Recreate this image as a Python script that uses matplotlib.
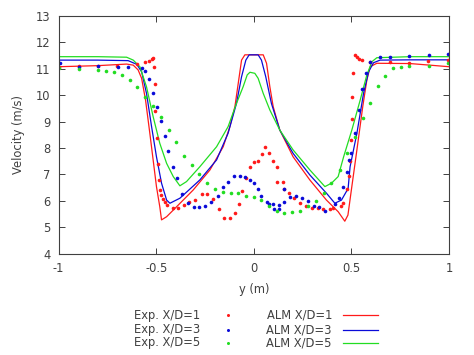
import matplotlib
matplotlib.use("Agg")
import matplotlib.pyplot as plt
from matplotlib.lines import Line2D

# Exp. X/D=1 (red dots)
exp1_y = [-1.0, -0.895, -0.80, -0.70, -0.60, -0.557, -0.538, -0.524, -0.516, -0.512, -0.507,
          -0.504, -0.497, -0.492, -0.487, -0.48, -0.475, -0.468, -0.457, -0.447, -0.416, -0.388,
          -0.357, -0.331, -0.30, -0.268, -0.239, -0.21, -0.181, -0.151, -0.12, -0.099, -0.078,
          -0.059, -0.038, -0.02, 0.001, 0.022, 0.041, 0.058, 0.077, 0.099, 0.117, 0.121, 0.15,
          0.154, 0.181, 0.207, 0.236, 0.266, 0.298, 0.327, 0.356, 0.389, 0.405, 0.447, 0.459,
          0.476, 0.485, 0.493, 0.497, 0.502, 0.505, 0.509, 0.518, 0.528, 0.54, 0.556, 0.597,
          0.697, 0.795, 0.894, 0.993]
exp1_v = [11.08, 11.12, 11.12, 11.1, 11.17, 11.25, 11.31, 11.37, 11.4, 11.08, 10.43,
          9.40, 8.39, 7.38, 6.78, 6.41, 6.22, 6.07, 5.95, 5.84, 5.72, 5.72,
          5.84, 5.95, 6.02, 6.25, 6.26, 6.07, 5.68, 5.34, 5.34, 5.54, 5.9,
          6.38, 6.85, 7.28, 7.46, 7.5, 7.79, 8.04, 7.8, 7.52, 7.29, 6.73, 6.73,
          6.46, 6.31, 6.10, 5.93, 5.81, 5.74, 5.72, 5.68, 5.68, 5.72, 5.82, 5.93,
          6.46, 6.94, 7.52, 8.30, 9.09, 9.95, 10.83, 11.52, 11.46, 11.38, 11.32, 11.25,
          11.25, 11.23, 11.3, 11.33]

# Exp. X/D=3 (blue dots)
exp3_y = [-0.994, -0.895, -0.796, -0.698, -0.647, -0.575, -0.557, -0.538, -0.519, -0.497,
          -0.476, -0.457, -0.439, -0.416, -0.396, -0.367, -0.336, -0.309, -0.279, -0.248,
          -0.22, -0.186, -0.158, -0.131, -0.101, -0.072, -0.043, -0.019, 0.002, 0.022,
          0.039, 0.069, 0.079, 0.1, 0.102, 0.129, 0.128, 0.155, 0.157, 0.183, 0.217, 0.248,
          0.278, 0.309, 0.333, 0.365, 0.416, 0.435, 0.457, 0.476, 0.488, 0.498, 0.518,
          0.537, 0.556, 0.575, 0.596, 0.647, 0.697, 0.796, 0.895, 0.995]
exp3_v = [11.21, 11.08, 11.1, 11.06, 11.06, 11.02, 10.9, 10.60, 10.10, 9.57,
          9.04, 8.47, 7.90, 7.29, 6.85, 6.26, 5.93, 5.76, 5.76, 5.82,
          5.97, 6.18, 6.51, 6.73, 6.94, 6.95, 6.89, 6.79, 6.66, 6.44,
          6.18, 5.97, 5.87, 5.89, 5.68, 5.84, 5.69, 5.97, 6.46, 6.13, 6.18, 6.12,
          5.98, 5.82, 5.76, 5.63, 5.88, 6.12, 6.54, 7.10, 7.55, 7.80, 8.58,
          9.43, 10.24, 10.86, 11.27, 11.44, 11.46, 11.5, 11.53, 11.55]

# Exp. X/D=5 (green dots)
exp5_y = [-0.997, -0.895, -0.796, -0.755, -0.716, -0.675, -0.635, -0.598, -0.557, -0.517,
          -0.476, -0.437, -0.398, -0.359, -0.318, -0.28, -0.238, -0.2, -0.16, -0.118,
          -0.079, -0.041, 0.0, 0.038, 0.077, 0.117, 0.156, 0.196, 0.237, 0.277, 0.316,
          0.357, 0.396, 0.439, 0.476, 0.516, 0.557, 0.596, 0.635, 0.673, 0.714, 0.753,
          0.796, 0.895, 0.995]
exp5_v = [11.04, 11.0, 10.97, 10.92, 10.87, 10.78, 10.58, 10.30, 9.94, 9.59,
          9.19, 8.68, 8.24, 7.71, 7.37, 7.01, 6.69, 6.46, 6.35, 6.29,
          6.29, 6.2, 6.16, 6.03, 5.8, 5.63, 5.53, 5.57, 5.63, 5.81, 6.0,
          6.31, 6.69, 7.17, 7.80, 8.43, 9.13, 9.69, 10.35, 10.73, 11.02, 11.08,
          11.12, 11.12, 11.23]

# ALM X/D=1 (red line)
alm1_y = [-1.0, -0.8, -0.652, -0.618, -0.593, -0.575, -0.555, -0.533, -0.516, -0.499,
          -0.482, -0.473, -0.447, -0.413, -0.311, -0.225, -0.157, -0.123, -0.097, -0.08,
          -0.063, -0.046, 0.048, 0.065, 0.082, 0.099, 0.133, 0.201, 0.287, 0.372, 0.432,
          0.466, 0.482, 0.502, 0.528, 0.558, 0.579, 0.596, 0.63, 0.8, 1.0]
alm1_v = [11.08, 11.12, 11.18, 11.14, 10.96, 10.64, 9.82, 8.56, 7.55, 6.54,
          5.78, 5.28, 5.40, 5.65, 6.41, 7.17, 8.05, 8.81, 9.57, 10.45,
          11.33, 11.53, 11.53, 11.21, 10.32, 9.57, 8.68, 7.67, 6.79, 6.03, 5.59,
          5.23, 5.46, 6.54, 7.93, 9.57, 10.58, 11.08, 11.21, 11.2, 11.08]

# ALM X/D=3 (blue line)
alm3_y = [-1.0, -0.8, -0.644, -0.6, -0.575, -0.55, -0.524, -0.499, -0.473, -0.447,
          -0.43, -0.379, -0.277, -0.191, -0.132, -0.089, -0.063, -0.041, -0.024, 0.022,
          0.039, 0.061, 0.09, 0.133, 0.201, 0.287, 0.372, 0.415, 0.449, 0.483, 0.493,
          0.528, 0.562, 0.588, 0.613, 0.647, 0.8, 1.0]
alm3_v = [11.33, 11.33, 11.31, 11.17, 10.89, 10.07, 8.81, 7.67, 6.67, 6.03,
          5.91, 6.10, 6.79, 7.55, 8.56, 9.69, 10.70, 11.33, 11.53, 11.53,
          11.33, 10.70, 9.69, 8.68, 7.80, 6.98, 6.29, 5.91, 6.03, 6.47, 7.29,
          8.56, 10.07, 10.89, 11.23, 11.33, 11.34, 11.34]

# ALM X/D=5 (green line)
alm5_y = [-1.0, -0.8, -0.652, -0.618, -0.584, -0.55, -0.516, -0.482, -0.447, -0.413,
          -0.379, -0.345, -0.277, -0.191, -0.132, -0.089, -0.055, -0.034, -0.02, 0.005,
          0.022, 0.048, 0.082, 0.133, 0.201, 0.287, 0.364, 0.398, 0.432, 0.46, 0.502,
          0.545, 0.579, 0.605, 0.63, 0.8, 1.0]
alm5_v = [11.46, 11.46, 11.44, 11.33, 11.08, 10.32, 9.19, 8.18, 7.42, 6.92,
          6.57, 6.73, 7.29, 8.05, 8.81, 9.69, 10.32, 10.77, 10.87, 10.83,
          10.64, 10.07, 9.44, 8.68, 7.93, 7.17, 6.54, 6.67, 6.92, 7.67, 8.68,
          9.82, 10.77, 11.27, 11.42, 11.46, 11.46]

xticks = [-1, -0.5, 0, 0.5, 1]
yticks = list(range(4, 14))

red, blue, green = '#ff1a1a', '#0a0ad8', '#22dd22'
gray = '#404040'

fig = plt.figure(figsize=(4.74, 3.55), dpi=100)
ax = fig.add_axes([0.1238, 0.2854, 0.8235, 0.6695])

ax.plot(alm1_y, alm1_v, color=red, lw=0.9)
ax.plot(alm3_y, alm3_v, color=blue, lw=0.9)
ax.plot(alm5_y, alm5_v, color=green, lw=0.9)
ms = 2.6
ax.plot(exp1_y, exp1_v, 'o', color=red, ms=ms, mew=0)
ax.plot(exp3_y, exp3_v, 'o', color=blue, ms=ms, mew=0)
ax.plot(exp5_y, exp5_v, 'o', color=green, ms=ms, mew=0)

ax.set_xlim(-1, 1)
ax.set_ylim(4, 13)
ax.set_xticks(xticks)
ax.set_xticklabels(['-1', '-0.5', '0', '0.5', '1'])
ax.set_yticks(yticks)
ax.tick_params(direction='in', top=True, right=True, length=4, width=0.7,
               colors=gray, labelsize=8.3, pad=6)
for s in ax.spines.values():
    s.set_color(gray)
    s.set_linewidth(0.8)
ax.set_xlabel('y (m)', fontsize=8.3, color=gray, labelpad=6)
ax.set_ylabel('Velocity (m/s)', fontsize=8.3, color=gray, labelpad=8)

# gnuplot-style key below the plot
rows = [1 - 315 / 355, 1 - 330 / 355, 1 - 342.7 / 355]
exp_labels = ['Exp. X/D=1', 'Exp. X/D=3', 'Exp. X/D=5']
alm_labels = ['ALM X/D=1', 'ALM X/D=3', 'ALM X/D=5']
cols = [red, blue, green]
for yy, el, al, c in zip(rows, exp_labels, alm_labels, cols):
    fig.text(200 / 474, yy, el, ha='right', va='center', fontsize=8.3, color=gray)
    fig.add_artist(Line2D([227.7 / 474], [yy], marker='o', ms=2.2, mew=0, color=c,
                          transform=fig.transFigure))
    fig.text(332 / 474, yy, al, ha='right', va='center', fontsize=8.3, color=gray)
    fig.add_artist(Line2D([343 / 474, 378 / 474], [yy, yy], lw=0.9, color=c,
                          transform=fig.transFigure))

fig.savefig('out.png', dpi=100)
